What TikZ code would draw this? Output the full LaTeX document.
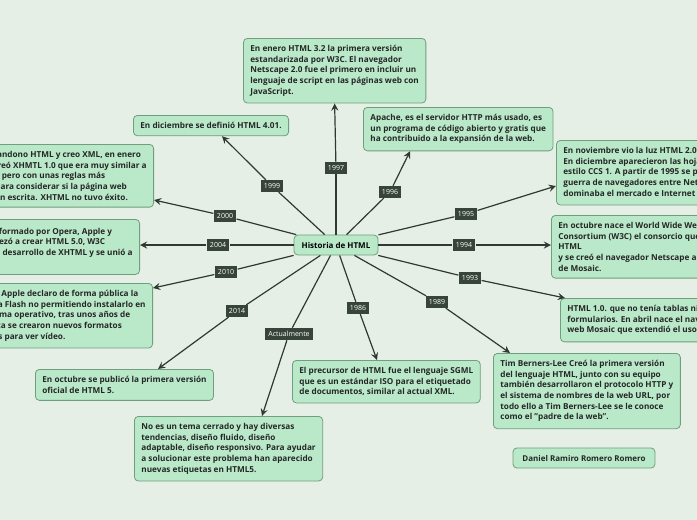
\documentclass[tikz,border=0pt]{standalone}
\usepackage{fontspec}
\setmainfont{Open Sans}
\usepackage{tikz}
\definecolor{fondo}{HTML}{E6EFE6}
\definecolor{caja}{HTML}{B9E9C9}
\definecolor{borde}{HTML}{6F9F7E}
\definecolor{etiq}{HTML}{36443A}
\definecolor{linea}{HTML}{2C3A30}
\tikzset{
  caja/.style={draw=borde, fill=caja, rounded corners=2pt, align=left, inner sep=3.5pt,
    font=\fontsize{4.1}{5.3}\selectfont\bfseries, text=black!85, anchor=north west},
  anio/.style={fill=etiq, text=white, inner sep=1.6pt, font=\fontsize{3.5}{4}\selectfont},
  flecha/.style={->, >=stealth, linea, line width=0.6pt},
  rama/.style={linea, line width=0.6pt}
}
\begin{document}
\begin{tikzpicture}[x=0.5pt, y=-0.5pt]
\fill[fondo] (0,0) rectangle (697,520);
\clip (0,0) rectangle (697,520);

\node[draw=borde, fill=caja, rounded corners=2pt, inner sep=3pt, minimum width=42pt,
  minimum height=10pt, font=\fontsize{4}{5}\selectfont\bfseries] (centro) at (336,245) {Historia de HTML};

% cajas
\node[caja] (c1997) at (243,38) {En enero HTML 3.2 la primera versión\\estandarizada por W3C. El navegador\\Netscape 2.0 fue el primero en incluir un\\lenguaje de script en las páginas web con\\JavaScript.};
\node[caja] (c1999) at (133,115) {En diciembre se definió HTML 4.01.};
\node[caja] (c1996) at (363,107) {Apache, es el servidor HTTP más usado, es\\un programa de código abierto y gratis que\\ha contribuido a la expansión de la web.};
\node[caja] (c1995) at (556,140) {En noviembre vio la luz HTML 2.0.\\En diciembre aparecieron las hojas de\\estilo CCS 1. A partir de 1995 se produjo la\\guerra de navegadores entre Netscape que\\dominaba el mercado e Internet Explorer.};
\node[caja] (c1994) at (551,215) {En octubre nace el World Wide Web\\Consortium (W3C) el consorcio que regula\\HTML\\ y se creó el navegador Netscape a partir\\de Mosaic.};
\node[caja] (c1993) at (560,298) {HTML 1.0. que no tenía tablas ni\\formularios. En abril nace el navegador\\web Mosaic que extendió el uso de la web.};
\node[caja] (c1989) at (493,353) {Tim Berners-Lee Creó la primera versión\\del lenguaje HTML, junto con su equipo\\también desarrollaron el protocolo HTTP y\\el sistema de nombres de la web URL, por\\todo ello a Tim Berners-Lee se le conoce\\como el "padre de la web".};
\node[caja] (c1986) at (292,360) {El precursor de HTML fue el lenguaje SGML\\que es un estándar ISO para el etiquetado\\de documentos, similar al actual XML.};
\node[caja] (cact) at (134,416) {No es un tema cerrado y hay diversas\\tendencias, diseño fluido, diseño\\adaptable, diseño responsivo. Para ayudar\\a solucionar este problema han aparecido\\nuevas etiquetas en HTML5.};
\node[caja] (c2014) at (35,369) {En octubre se publicó la primera versión\\oficial de HTML 5.};
\node[caja, anchor=north east] (c2010) at (153,283) {En 2010 Apple declaro de forma pública la\\guerra a Flash no permitiendo instalarlo en\\su sistema operativo, tras unos años de\\polémica se crearon nuevos formatos\\abiertos para ver vídeo.};
\node[caja, anchor=north east, minimum height=27.5pt] (c2004) at (140,219) {El WHATWG formado por Opera, Apple y\\Mozilla empezó a crear HTML 5.0, W3C\\abandonó el desarrollo de XHTML y se unió a\\WHATWG.};
\node[caja, anchor=north east] (c2000) at (154,144) {El W3C abandono HTML y creo XML, en enero\\del 2000 creó XHMTL 1.0 que era muy similar a\\HTML 4.01 pero con unas reglas más\\estrictas para considerar si la página web\\estaba bien escrita. XHTML no tuvo éxito.};
\node[draw=borde, fill=caja, rounded corners=2pt, inner sep=3.5pt, minimum width=71pt,
  minimum height=10pt, font=\fontsize{4}{5}\selectfont\bfseries, text=black!85] (autor) at (584,458) {Daniel Ramiro Romero Romero};

% etiquetas de años
\node[anio] (a1997) at (336,168) {1997};
\node[anio] (a1999) at (272,186) {1999};
\node[anio] (a1996) at (390,192) {1996};
\node[anio] (a2000) at (225,216) {2000};
\node[anio] (a1995) at (466,214) {1995};
\node[anio] (a2004) at (218,245) {2004};
\node[anio] (a1994) at (464,245) {1994};
\node[anio] (a2010) at (226,272) {2010};
\node[anio] (a1993) at (470,278) {1993};
\node[anio] (a2014) at (237,311) {2014};
\node[anio] (a1989) at (437,302) {1989};
\node[anio] (a1986) at (358,308) {1986};
\node[anio] (aact) at (289,334) {Actualmente};

% ramas
\foreach \a in {a1997,a1999,a1996,a2000,a1995,a2004,a1994,a2010,a1993,a2014,a1989,a1986,aact}
  \draw[rama] (centro) -- (\a);

\draw[flecha] (a1997) -- (c1997.south);
\draw[flecha] (a1999) -- (c1999.south -| 222,0);
\draw[flecha] (a1996) -- (c1996.south -| 410,0);
\draw[flecha] (a2000) -- (c2000.east |- 0,200);
\draw[flecha] (a1995) -- (c1995.west |- 0,186);
\draw[flecha] (a2004) -- (c2004.east |- 0,245);
\draw[flecha] (a1994) -- (c1994.west |- 0,245);
\draw[flecha] (a2010) -- (c2010.east |- 0,288);
\draw[flecha] (a1993) -- (c1993.north -| 565,0);
\draw[flecha] (a2014) -- (c2014.north -| 158,0);
\draw[flecha] (a1989) -- (c1989.north -| 510,0);
\draw[flecha] (a1986) -- (c1986.north -| 377,0);
\draw[flecha] (aact) -- (cact.north -| 262,0);
\end{tikzpicture}
\end{document}
